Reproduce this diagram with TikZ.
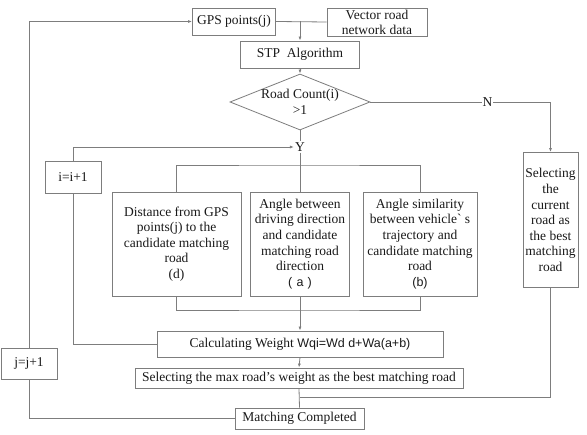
\documentclass[tikz,border=0pt]{standalone}
\usepackage{fontspec}
\setmainfont{Liberation Serif}
\newfontfamily\sansf{Liberation Sans}
\usetikzlibrary{shapes.geometric,arrows.meta}
\definecolor{linegray}{RGB}{125,125,125}
\definecolor{textgray}{RGB}{25,25,25}

\begin{document}
\begin{tikzpicture}[x=1pt,y=-1pt,
  box/.style={draw=linegray,line width=0.8pt,inner sep=0pt,align=center,text=textgray,font=\fontsize{13.5}{15.6}\selectfont},
  lab/.style={text=textgray,font=\fontsize{13.5}{15}\selectfont,inner sep=1pt},
  conn/.style={draw=linegray,line width=0.8pt},
  arr/.style={conn,-{Latex[length=4pt,width=3pt]}}]

  \useasboundingbox (0,0) rectangle (587,435);

  \node[box,minimum width=83pt,minimum height=27pt] (gps) at (234,21.5) {GPS points(j)};
  \node[box,minimum width=100pt,minimum height=28pt,font=\fontsize{13.5}{15}\selectfont] (vec) at (377,22) {Vector road\\network data};
  \node[box,minimum width=119pt,minimum height=27pt] (stp) at (300,54.5) {STP\ \ Algorithm};
  \node[box,diamond,minimum width=140pt,minimum height=56pt] (dia) at (300,102) {\makebox[0pt]{Road Count(i)}\\>1};

  \node[box,minimum width=55pt,minimum height=135pt] (cur) at (550.5,220) {Selecting\\the\\current\\road as\\the best\\matching\\road};
  \node[box,minimum width=56pt,minimum height=32pt] (iinc) at (73,177) {i=i+1};

  \node[box,minimum width=129pt,minimum height=104pt] (dist) at (176.5,244) {Distance from GPS\\points(j) to the\\candidate matching\\road\\(d)};
  \node[box,minimum width=99pt,minimum height=104pt] (ang) at (300,244) {Angle between\\driving direction\\and candidate\\matching road\\direction\\{\sansf\fontsize{12.5}{15}\selectfont(\,\,a\,\,)}};
  \node[box,minimum width=114pt,minimum height=104pt] (sim) at (420,244) {Angle similarity\\between vehicle\textasciigrave\ s\\trajectory and\\candidate matching\\road\\{\sansf\fontsize{12.5}{15}\selectfont(b)}};

  \node[box,minimum width=286pt,minimum height=26pt] (calc) at (300,344) {Calculating Weight {\sansf\fontsize{12.5}{15}\selectfont Wqi=Wd d+Wa(a+b)}};
  \node[box,minimum width=328pt,minimum height=20pt] (selmax) at (299,378) {Selecting the max road's weight as the best matching road};
  \node[box,minimum width=129pt,minimum height=21pt] (done) at (299.5,418.5) {Matching Completed};
  \node[box,minimum width=56pt,minimum height=31pt] (jinc) at (29,363.5) {j=j+1};

  \node[lab] (ylab) at (300,147) {Y};
  \coordinate (topsplit) at (300,165);
  \coordinate (botsplit) at (300,310);
  \coordinate (curjoin) at (300,397);

  \draw[conn] (gps.east) -- (vec.west);
  \draw[arr] (stp.north |- gps.east) -- (stp.north);
  \draw[arr] (stp.south) -- (dia.north);
  \draw[arr] (dia.east) -- node[lab,fill=white,pos=.65]{N} (cur.north |- dia.east) -- (cur.north);

  \draw[conn] (dia.south) -- (ylab.north);
  \draw[arr] (iinc.north) |- (ylab.west);
  \draw[conn] (ylab.south) -- (ang.north);
  \draw[conn] (dist.north) |- (topsplit) -| (sim.north);
  \draw[conn] (dist.south) |- (botsplit) -| (sim.south);
  \draw[arr] (ang.south) -- (calc.north);
  \draw[conn] (calc.west) -| (iinc.south);

  \draw[arr] (calc.south) -- (selmax.north);
  \draw[conn] (selmax.south) -- (done.north);
  \draw[conn] (cur.south) |- (curjoin);
  \draw[conn] (done.west) -| (jinc.south);
  \draw[arr] (jinc.north) |- (gps.west);

\end{tikzpicture}
\end{document}
